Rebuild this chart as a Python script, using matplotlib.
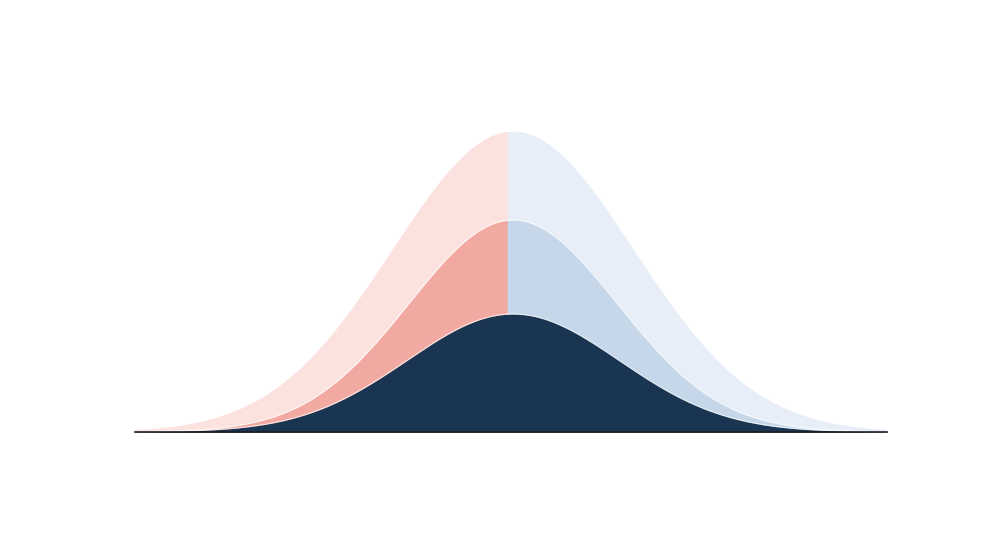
import numpy as np
import matplotlib.pyplot as plt

# bell curve layers, back to front (pixel-like units)
center = 513
split = 508
peaks = [301, 212, 118]
spreads = [121, 104, 106]
left_colors = ['#fce2de', '#f1a9a1', '#1a3552']
right_colors = ['#e7eef7', '#c5d7e9', '#1a3552']
baseline = 128
axis_start, axis_end = 135, 887


def bell(x, peak, s):
    return baseline + peak * np.exp(-0.5 * ((x - center) / s) ** 2)


fig = plt.figure(figsize=(10, 5.6), dpi=100)
ax = fig.add_axes([0, 0, 1, 1])
ax.set_xlim(0, 1000)
ax.set_ylim(0, 560)
ax.axis('off')

xl = np.linspace(axis_start, split + 0.8, 500)
xr = np.linspace(split - 0.8, axis_end, 500)
for peak, s, lc, rc in zip(peaks, spreads, left_colors, right_colors):
    yl = bell(xl, peak, s)
    yr = bell(xr, peak, s)
    ax.fill_between(xl, baseline, yl, color=lc, lw=0)
    ax.fill_between(xr, baseline, yr, color=rc, lw=0)
    ax.plot(xl, yl, color='white', lw=0.8, alpha=0.7)
    ax.plot(xr, yr, color='white', lw=0.8, alpha=0.7)

ax.plot([axis_start, axis_end], [baseline, baseline], color='#1c1c24', lw=1.2)

fig.savefig('out.png', dpi=100)
